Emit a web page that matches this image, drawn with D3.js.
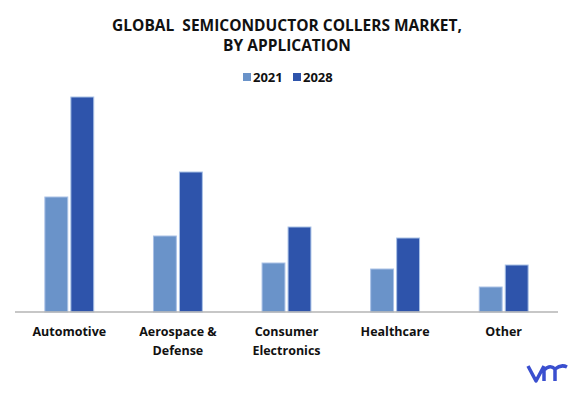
<!DOCTYPE html>
<html>
<head>
<meta charset="utf-8">
<script src="https://cdn.jsdelivr.net/npm/d3@7"></script>
<style>
  body { margin: 0; background: #fff; }
  text { font-family: "Open Sans", "DejaVu Sans", sans-serif; font-weight: bold; fill: #111; }
</style>
</head>
<body>
<div id="chart"></div>
<script>
// Chart data
const categories = ["Automotive", "Aerospace & Defense", "Consumer Electronics", "Healthcare", "Other"];
const labelLines = [["Automotive"], ["Aerospace &", "Defense"], ["Consumer", "Electronics"], ["Healthcare"], ["Other"]];
const seriesNames = ["2021", "2028"];
const values2021 = [11.5, 7.6, 4.9, 4.3, 2.5];
const values2028 = [21.5, 14.0, 8.5, 7.4, 4.7];
const colors = ["#6a93c9", "#2e54ab"];

const W = 574, H = 393;
const svg = d3.select("#chart").append("svg")
    .attr("width", W).attr("height", H);

// Title
svg.append("text")
    .attr("x", 287).attr("y", 31)
    .attr("text-anchor", "middle")
    .attr("font-size", "15.5px")
    .attr("xml:space", "preserve")
    .text("GLOBAL  SEMICONDUCTOR COLLERS MARKET,");
svg.append("text")
    .attr("x", 287).attr("y", 51)
    .attr("text-anchor", "middle")
    .attr("font-size", "15.5px")
    .text("BY APPLICATION");

// Scales
const x0 = d3.scaleBand().domain(categories).range([15, 558])
    .paddingInner(0.55).paddingOuter(0.275);
const x1 = d3.scaleBand().domain(seriesNames).range([0, x0.bandwidth()])
    .paddingInner(0.12);
const y = d3.scaleLinear().domain([0, 21.5]).range([312, 97]);

const rows = categories.map((c, i) => ({ cat: c, vals: [values2021[i], values2028[i]] }));

const groups = svg.selectAll("g.grp").data(rows).enter().append("g")
    .attr("class", "grp")
    .attr("transform", d => `translate(${x0(d.cat)},0)`);

groups.selectAll("rect")
    .data(d => d.vals.map((v, j) => ({ key: seriesNames[j], v, j })))
    .enter().append("rect")
    .attr("x", d => x1(d.key))
    .attr("y", d => y(d.v))
    .attr("width", x1.bandwidth())
    .attr("height", d => y(0) - y(d.v))
    .attr("fill", d => colors[d.j])
    .attr("stroke", "#a9c1e6")
    .attr("stroke-width", 1);

// Baseline
svg.append("line")
    .attr("x1", 15).attr("x2", 558)
    .attr("y1", y(0)).attr("y2", y(0))
    .attr("stroke", "#b5b5b5").attr("stroke-width", 1.5);

// Category labels
labelLines.forEach((lines, i) => {
    const cx = x0(categories[i]) + x0.bandwidth() / 2;
    lines.forEach((ln, k) => {
        svg.append("text")
            .attr("x", cx).attr("y", 336 + k * 19)
            .attr("text-anchor", "middle")
            .attr("font-size", "12.5px")
            .text(ln);
    });
});

// Legend
const legend = svg.append("g");
const legendX = [243, 293];
seriesNames.forEach((s, i) => {
    legend.append("rect")
        .attr("x", legendX[i]).attr("y", 73)
        .attr("width", 8).attr("height", 8)
        .attr("fill", colors[i]);
    legend.append("text")
        .attr("x", legendX[i] + 10).attr("y", 82)
        .attr("font-size", "13px")
        .text(s);
});

// Logo
svg.append("path")
    .attr("d", "M528,366 L536,381 L544,366 M544,381 L544,370 Q550,364 555,369 L555,381 M555,369 Q561,364 567,367")
    .attr("fill", "none")
    .attr("stroke", "#3a4fcf")
    .attr("stroke-width", 3.5)
    .attr("stroke-linejoin", "round");
</script>
</body>
</html>
